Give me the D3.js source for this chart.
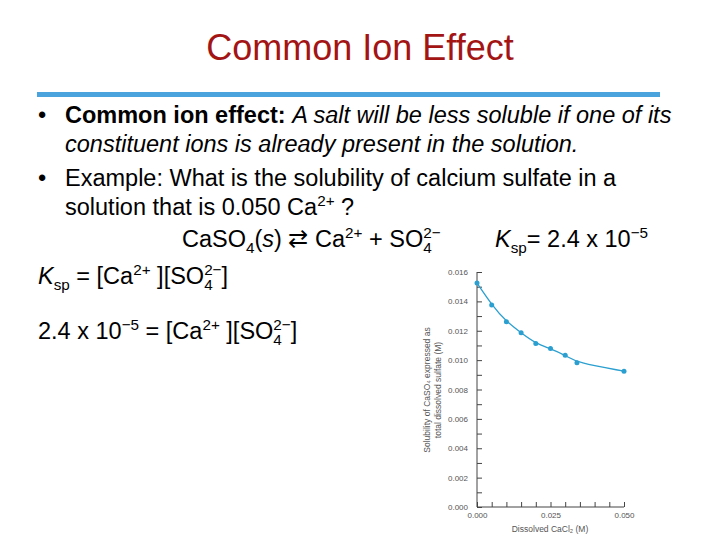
<!DOCTYPE html>
<html><head><meta charset="utf-8">
<script src="https://cdn.jsdelivr.net/npm/d3@7"></script>
<style>body{margin:0;background:#fff}svg{display:block}</style>
</head><body>
<svg id="s" width="720" height="540"></svg>
<script>
const xVals=[0,0.005,0.010,0.015,0.020,0.025,0.030,0.034,0.050];
const yVals=[0.01525,0.01376,0.01262,0.01186,0.01113,0.01079,0.01034,0.00982,0.00925];
const xTickLabels=["0.000","0.025","0.050"];
const yTickLabels=["0.000","0.002","0.004","0.006","0.008","0.010","0.012","0.014","0.016"];

const svg=d3.select("#s");
const F="Liberation Sans, Arial, sans-serif";
svg.append("text").attr("x",360).attr("y",60).attr("text-anchor","middle")
 .attr("font-family",F).attr("font-size",36).attr("fill","#a31515").text("Common Ion Effect");
svg.append("rect").attr("x",37).attr("y",92).attr("width",623).attr("height",5).attr("fill","#4aa3dc");

const SZ=23.5;
const T=(x,y,parts,size=SZ)=>{const t=svg.append("text").attr("x",x).attr("y",y).attr("font-family",F).attr("font-size",size).attr("fill","#000");
 parts.forEach(p=>{const s=t.append("tspan").text(p.t);if(p.b)s.attr("font-weight","bold");if(p.i)s.attr("font-style","italic");
 if(p.sup||p.sub)s.attr("font-size",size*0.65);if(p.dy!==undefined)s.attr("dy",p.dy);if(p.dx!==undefined)s.attr("dx",p.dx);});return t;};
const bk=-SZ*0.65*0.556;
T(38,123,[{t:"•"}]);
T(65,123,[{t:"Common ion effect: ",b:true},{t:"A salt will be less soluble if one of its",i:true}]);
T(65,152,[{t:"constituent ions is already present in the solution.",i:true}]);
T(38,186,[{t:"•"}]);
T(65,186,[{t:"Example: What is the solubility of calcium sulfate in a"}]);
T(65,215,[{t:"solution that is 0.050  Ca"},{t:"2+",sup:true,dy:-9},{t:" ?",dy:9}]);
T(182,247,[{t:"CaSO"},{t:"4",sub:true,dy:6},{t:"(",dy:-6},{t:"s",i:true},{t:") ⇄ Ca"},{t:"2+",sup:true,dy:-9},{t:" + SO",dy:9},{t:"4",sub:true,dy:6},{t:"2−",sup:true,dy:-15,dx:bk}]);
T(495,247,[{t:"K",i:true},{t:"sp",sub:true,dy:6},{t:"= 2.4 x 10",dy:-6},{t:"−5",sup:true,dy:-9}]);
T(38,284,[{t:"K",i:true},{t:"sp",sub:true,dy:6},{t:" = [Ca",dy:-6},{t:"2+",sup:true,dy:-9},{t:" ][SO",dy:9},{t:"4",sub:true,dy:6},{t:"2−",sup:true,dy:-15,dx:bk},{t:"]",dy:9}]);
T(38,339,[{t:"2.4 x 10"},{t:"−5",sup:true,dy:-9},{t:" = [Ca",dy:9},{t:"2+",sup:true,dy:-9},{t:" ][SO",dy:9},{t:"4",sub:true,dy:6},{t:"2−",sup:true,dy:-15,dx:bk},{t:"]",dy:9}]);

// chart
const x=d3.scaleLinear().domain([0,0.05]).range([477,624]);
const y=d3.scaleLinear().domain([0,0.016]).range([507,272]);
const g=svg.append("g").attr("font-family",F).attr("fill","#555");
const ax=g.append("g").attr("transform","translate(0,507)").call(d3.axisBottom(x).tickValues(d3.range(0,0.0501,0.005)).tickSize(-5).tickFormat(d=>{const s=d.toFixed(3);return xTickLabels.includes(s)?s:"";}));
ax.selectAll("text").attr("font-size",8).attr("fill","#555").attr("dy",8);
const ay=g.append("g").attr("transform","translate(477,0)").call(d3.axisLeft(y).tickValues(d3.range(0,0.01601,0.001)).tickSize(-5).tickFormat(d=>{const s=d.toFixed(3);return yTickLabels.includes(s)?s:"";}));
ay.selectAll("text").attr("font-size",8).attr("fill","#555").attr("dx",-6);
g.selectAll(".domain,.tick line").attr("stroke","#444");
ax.select(".domain").attr("d","M477,0H624");
ay.select(".domain").attr("d","M0,272V507");
g.append("text").attr("x",550).attr("y",532).attr("text-anchor","middle").attr("font-size",8.5).attr("fill","#555").text("Dissolved CaCl₂ (M)");
const yl=g.append("text").attr("transform","translate(430,390) rotate(-90)").attr("text-anchor","middle").attr("font-size",8.5).attr("fill","#555");
yl.append("tspan").attr("x",0).attr("dy",0).text("Solubility of CaSO₄ expressed as");
yl.append("tspan").attr("x",0).attr("dy",11).text("total dissolved sulfate (M)");
const line=d3.line().x((d,i)=>x(xVals[i])).y(d=>y(d)).curve(d3.curveBasis);
svg.append("path").attr("d",line(yVals)).attr("fill","none").attr("stroke","#2a9fd0").attr("stroke-width",1.3);
svg.selectAll("circle.p").data(yVals).enter().append("circle").attr("cx",(d,i)=>x(xVals[i])).attr("cy",d=>y(d)).attr("r",2.5).attr("fill","#2a9fd0");
</script></body></html>
